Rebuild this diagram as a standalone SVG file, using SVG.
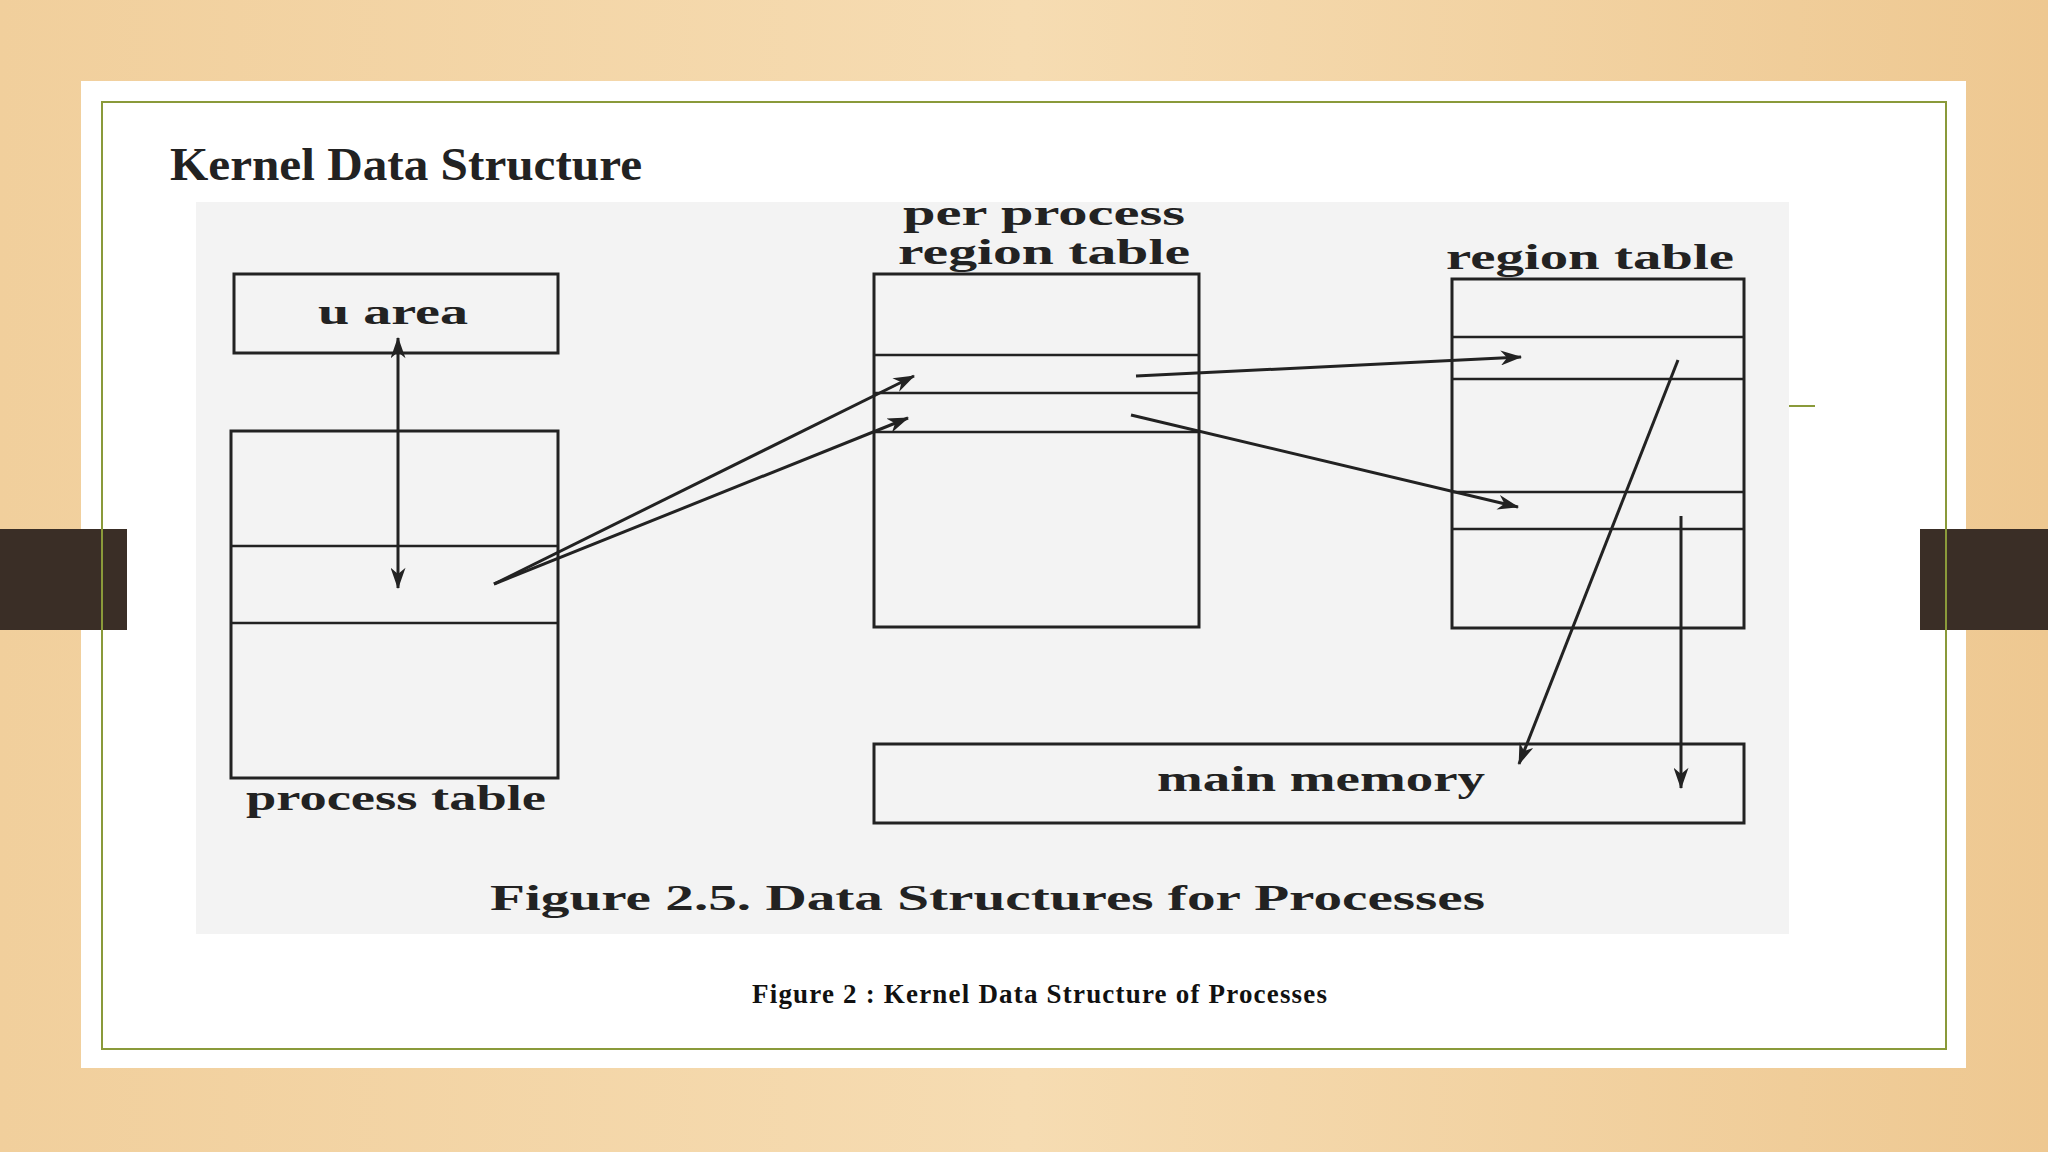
<svg xmlns="http://www.w3.org/2000/svg" width="2048" height="1152" viewBox="0 0 2048 1152">
<defs>
<linearGradient id="wood" x1="0" y1="0" x2="1" y2="0">
<stop offset="0" stop-color="#f1cf9c"/><stop offset="0.5" stop-color="#f6dcb2"/><stop offset="1" stop-color="#eec891"/>
</linearGradient>
<marker id="ah" viewBox="0 0 20 14" refX="19" refY="7" markerWidth="22" markerHeight="15" markerUnits="userSpaceOnUse" orient="auto-start-reverse">
<path d="M0,0 L20,7 L0,14 L6,7 Z" fill="#222"/>
</marker>
<style>
.b{fill:none;stroke:#222;stroke-width:3}
.l{stroke:#222;stroke-width:2.5}
.c{stroke:#222;stroke-width:3;fill:none;marker-end:url(#ah)}
.t{font-family:"Liberation Serif",serif;font-weight:bold;font-size:36px;fill:#222}
</style>
</defs>
<rect width="2048" height="1152" fill="url(#wood)"/>
<rect x="81" y="81" width="1885" height="987" fill="#ffffff"/>
<rect x="0" y="529" width="127" height="101" fill="#3a2e26"/>
<rect x="1920" y="529" width="128" height="101" fill="#3a2e26"/>
<rect x="102" y="102" width="1844" height="947" fill="none" stroke="#8a9a3a" stroke-width="2"/>
<line x1="1789" y1="406" x2="1815" y2="406" stroke="#8a9a3a" stroke-width="2"/>
<text x="170" y="180" font-family="Liberation Serif,serif" font-weight="bold" font-size="46" fill="#222" textLength="472" lengthAdjust="spacingAndGlyphs">Kernel Data Structure</text>
<rect x="196" y="202" width="1593" height="732" fill="#f3f3f3"/>
<g id="uarea"><rect class="b" x="234" y="274" width="324" height="79"/><text class="t" x="318" y="324" textLength="150" lengthAdjust="spacingAndGlyphs">u area</text></g>
<g id="proctable"><rect class="b" x="231" y="431" width="327" height="347"/><line class="l" x1="231" y1="546" x2="558" y2="546"/><line class="l" x1="231" y1="623" x2="558" y2="623"/><text class="t" x="246" y="810" textLength="300" lengthAdjust="spacingAndGlyphs">process table</text></g>
<g id="pprt"><rect class="b" x="874" y="274" width="325" height="353"/><line class="l" x1="874" y1="355" x2="1199" y2="355"/><line class="l" x1="874" y1="393" x2="1199" y2="393"/><line class="l" x1="874" y1="432" x2="1199" y2="432"/><text class="t" x="903" y="225" font-size="33" textLength="282" lengthAdjust="spacingAndGlyphs">per  process</text><text class="t" x="898" y="264" font-size="33" textLength="292" lengthAdjust="spacingAndGlyphs">region  table</text></g>
<g id="rtable"><rect class="b" x="1452" y="279" width="292" height="349"/><line class="l" x1="1452" y1="337" x2="1744" y2="337"/><line class="l" x1="1452" y1="379" x2="1744" y2="379"/><line class="l" x1="1452" y1="492" x2="1744" y2="492"/><line class="l" x1="1452" y1="529" x2="1744" y2="529"/><text class="t" x="1446" y="269" textLength="288" lengthAdjust="spacingAndGlyphs">region  table</text></g>
<g id="mainmem"><rect class="b" x="874" y="744" width="870" height="79"/><text class="t" x="1157" y="791" textLength="328" lengthAdjust="spacingAndGlyphs">main memory</text></g>
<g id="connectors">
<line class="c" x1="398" y1="338" x2="398" y2="588" marker-start="url(#ah)"/>
<line class="c" x1="494" y1="584" x2="914" y2="376"/>
<line class="c" x1="494" y1="584" x2="908" y2="418"/>
<line class="c" x1="1136" y1="376" x2="1521" y2="357"/>
<line class="c" x1="1131" y1="415" x2="1518" y2="507"/>
<line class="c" x1="1678" y1="360" x2="1519" y2="764"/>
<line class="c" x1="1681" y1="516" x2="1681" y2="788"/>
</g>
<text x="490" y="910" font-family="Liberation Serif,serif" font-weight="bold" font-size="36" fill="#222" textLength="995" lengthAdjust="spacingAndGlyphs">Figure 2.5.  Data Structures for Processes</text>
<text x="752" y="1003" font-family="Liberation Serif,serif" font-weight="bold" font-size="27" fill="#111" textLength="575">Figure 2 : Kernel Data Structure of  Processes</text>
</svg>
